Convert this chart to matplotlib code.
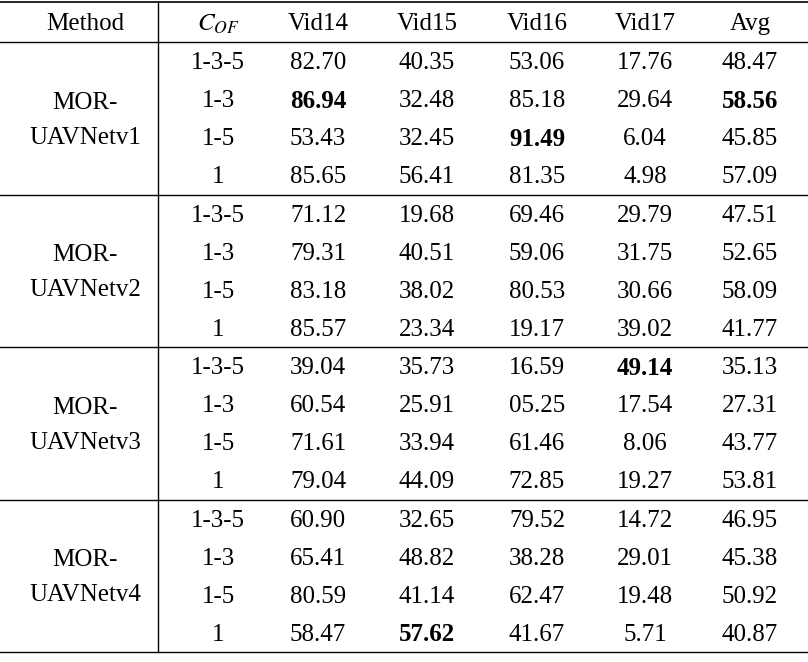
import matplotlib.pyplot as plt

methods = ["MOR-\nUAVNetv1", "MOR-\nUAVNetv2", "MOR-\nUAVNetv3", "MOR-\nUAVNetv4"]
cofs = ["1-3-5", "1-3", "1-5", "1"]
headers = ["Method", "$C_{OF}$", "Vid14", "Vid15", "Vid16", "Vid17", "Avg"]
values = [
    [["82.70", "40.35", "53.06", "17.76", "48.47"],
     ["86.94", "32.48", "85.18", "29.64", "58.56"],
     ["53.43", "32.45", "91.49", "6.04", "45.85"],
     ["85.65", "56.41", "81.35", "4.98", "57.09"]],
    [["71.12", "19.68", "69.46", "29.79", "47.51"],
     ["79.31", "40.51", "59.06", "31.75", "52.65"],
     ["83.18", "38.02", "80.53", "30.66", "58.09"],
     ["85.57", "23.34", "19.17", "39.02", "41.77"]],
    [["39.04", "35.73", "16.59", "49.14", "35.13"],
     ["60.54", "25.91", "05.25", "17.54", "27.31"],
     ["71.61", "33.94", "61.46", "8.06", "43.77"],
     ["79.04", "44.09", "72.85", "19.27", "53.81"]],
    [["60.90", "32.65", "79.52", "14.72", "46.95"],
     ["65.41", "48.82", "38.28", "29.01", "45.38"],
     ["80.59", "41.14", "62.47", "19.48", "50.92"],
     ["58.47", "57.62", "41.67", "5.71", "40.87"]],
]
# (group, row, col) of bold cells
bold = {(0, 1, 0), (0, 1, 4), (0, 2, 2), (2, 0, 3), (3, 3, 1)}

plt.rcParams['font.family'] = ['Liberation Serif', 'DejaVu Serif']
plt.rcParams['mathtext.fontset'] = 'stix'
fig = plt.figure(figsize=(8.08, 6.62), dpi=100)
ax = fig.add_axes([0, 0, 1, 1])
ax.set_xlim(0, 808)
ax.set_ylim(662, 0)
ax.axis('off')

xs = [85, 218, 318, 427, 537, 645, 750]
fs = 18
dy = 2
for x, h in zip(xs, headers):
    ax.text(x, 22 + dy, h, ha='center', va='center', fontsize=fs)

top, head, gh = 2, 42, 152.5
ax.plot([0, 808], [top, top], color='k', lw=1.2)
for g in range(5):
    y = head + g * gh
    ax.plot([0, 808], [y, y], color='k', lw=1.0)
ax.plot([158, 158], [top, head + 4 * gh], color='k', lw=1.0)

rh = gh / 4
for g in range(4):
    y0 = head + g * gh
    ax.text(xs[0], y0 + rh * 2 + dy, methods[g], ha='center', va='center',
            fontsize=fs, linespacing=1.75)
    for r in range(4):
        y = y0 + rh * (r + 0.5) + dy
        ax.text(xs[1], y, cofs[r], ha='center', va='center', fontsize=fs)
        for c in range(5):
            w = 'bold' if (g, r, c) in bold else 'normal'
            ax.text(xs[c + 2], y, values[g][r][c], ha='center', va='center',
                    fontsize=fs, fontweight=w)

fig.savefig('out.png', dpi=100)
